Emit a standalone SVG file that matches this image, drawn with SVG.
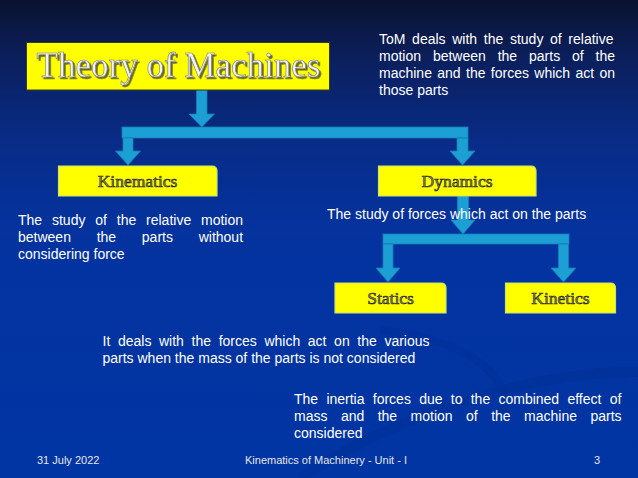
<svg xmlns="http://www.w3.org/2000/svg" width="638" height="478" viewBox="0 0 638 478">
<defs>
<linearGradient id="bg" x1="0" y1="0" x2="0" y2="1">
<stop offset="0" stop-color="#0a1230"/>
<stop offset="0.12" stop-color="#0b1f5c"/>
<stop offset="0.3" stop-color="#082c88"/>
<stop offset="0.5" stop-color="#0433a0"/>
<stop offset="1" stop-color="#0035a3"/>
</linearGradient>
<filter id="shadow" x="-5%" y="-20%" width="110%" height="140%">
<feDropShadow dx="1.8" dy="1.8" stdDeviation="0.6" flood-color="#4a4a30" flood-opacity="0.85"/>
</filter>
</defs>
<style>
.txt{font-family:"Liberation Sans",Arial,sans-serif;font-size:14px;fill:#ffffff}
.foot{font-family:"Liberation Sans",Arial,sans-serif;font-size:11px;fill:#e6e6e6}
.box{fill:#ffff00;stroke:#c8e27a;stroke-width:1.2}
.boxlbl{font-family:"Liberation Serif","Times New Roman",serif;font-size:17.5px;fill:#8a8a6a;stroke:#262626;stroke-width:0.6;text-anchor:middle}
.arrow{fill:#1c9fd4;stroke:#157fb2;stroke-width:0.8}
</style>
<rect x="0" y="0" width="638" height="478" fill="url(#bg)"/>
<path d="M300,478 C420,400 560,370 638,372" fill="none" stroke="#002a8a" stroke-width="10" opacity="0.25"/>
<path d="M380,330 C470,340 520,380 500,420" fill="none" stroke="#002a8a" stroke-width="8" opacity="0.2"/>

<g id="connectors">
<polygon class="arrow" points="196.5,90 207,90 207,114 214.5,114 201.8,127 189,114 196.5,114"/>
<rect class="arrow" x="122" y="127" width="346" height="11"/>
<polygon class="arrow" points="123,138 133,138 133,151 140.5,151 128,165 115.5,151 123,151"/>
<polygon class="arrow" points="457,138 468,138 468,151 475,151 462.5,165 450,151 457,151"/>
<polygon class="arrow" points="457.5,196 468.5,196 468.5,220 475,220 463,234 451,220 457.5,220"/>
<rect class="arrow" x="383" y="234" width="186" height="10"/>
<polygon class="arrow" points="383,244 393,244 393,268 400,268 388,282 376,268 383,268"/>
<polygon class="arrow" points="558.5,244 568.5,244 568.5,268 576,268 563.5,282 551,268 558.5,268"/>
</g>

<g id="title">
<rect x="26.5" y="42.5" width="303" height="47.5" fill="#ffff00" stroke="#3a3a20" stroke-width="1"/>
<text x="178.5" y="77" font-family="Liberation Serif,'Times New Roman',serif" font-size="35" text-anchor="middle" fill="#f2f2f2" stroke="#7a7a7a" stroke-width="0.6" filter="url(#shadow)">Theory of Machines</text>
</g>

<g id="tom-desc">
<text class="txt" x="379" y="44" word-spacing="2.77">ToM deals with the study of relative</text>
<text class="txt" x="379" y="61" word-spacing="7.98">motion between the parts of the</text>
<text class="txt" x="379" y="78" word-spacing="1.47">machine and the forces which act on</text>
<text class="txt" x="379" y="95">those parts</text>
</g>

<g id="kinematics">
<path class="box" d="M58.5,166 H212 Q217,166 217,171 V196 H58.5 Z"/>
<text class="boxlbl" x="137.5" y="186.5">Kinematics</text>
</g>

<g id="dynamics">
<path class="box" d="M378.5,166 H531 Q536,166 536,171 V196 H378.5 Z"/>
<text class="boxlbl" x="457" y="186.5">Dynamics</text>
</g>

<g id="statics">
<path class="box" d="M335,283 H441 Q446,283 446,288 V313 H335 Z"/>
<text class="boxlbl" x="390.5" y="303.5">Statics</text>
</g>

<g id="kinetics">
<path class="box" d="M505.5,283 H610.5 Q615.5,283 615.5,288 V313 H505.5 Z"/>
<text class="boxlbl" x="560.5" y="303.5">Kinetics</text>
</g>

<g id="kinematics-desc">
<text class="txt" x="18" y="225" word-spacing="5.94">The study of the relative motion</text>
<text class="txt" x="18" y="242" word-spacing="21.83">between the parts without</text>
<text class="txt" x="18" y="259">considering force</text>
</g>

<g id="dynamics-desc">
<text class="txt" x="327" y="219">The study of forces which act on the parts</text>
</g>

<g id="statics-desc">
<text class="txt" x="102.5" y="346" word-spacing="3.74">It deals with the forces which act on the various</text>
<text class="txt" x="102.5" y="363">parts when the mass of the parts is not considered</text>
</g>

<g id="kinetics-desc">
<text class="txt" x="294" y="404" word-spacing="4.37">The inertia forces due to the combined effect of</text>
<text class="txt" x="294" y="421" word-spacing="9.55">mass and the motion of the machine parts</text>
<text class="txt" x="294" y="438">considered</text>
</g>

<g id="footer">
<text class="foot" x="37" y="464">31 July 2022</text>
<text class="foot" x="326" y="464" text-anchor="middle">Kinematics of Machinery - Unit - I</text>
<text class="foot" x="597" y="464" text-anchor="middle">3</text>
</g>
</svg>
